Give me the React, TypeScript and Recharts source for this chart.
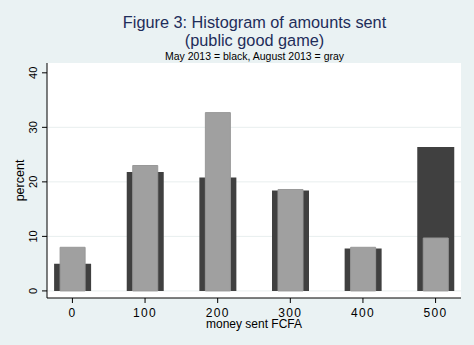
import {
  ComposedChart,
  Bar,
  XAxis,
  YAxis,
  CartesianGrid,
} from 'recharts'

document.body.style.margin = '0'

const amounts = [0, 100, 200, 300, 400, 500]
const may2013 = [5.0, 21.8, 20.8, 18.4, 7.8, 26.4]
const aug2013 = [8.0, 23.0, 32.7, 18.6, 8.0, 9.7]
const yTicks = [0, 10, 20, 30, 40]

const data = amounts.map((a, i) => ({ amount: a, may: may2013[i], aug: aug2013[i] }))

const BG = '#eaf2f3'
const NAVY = '#1e2d5a'
const FONT = '"Liberation Sans", Arial, sans-serif'

function YTick({ x, y, payload }: any) {
  return (
    <text
      x={x - 3}
      y={y}
      transform={`rotate(-90 ${x - 3} ${y})`}
      textAnchor="middle"
      fontSize={11}
      fontFamily={FONT}
      fill="#000"
    >
      {payload.value}
    </text>
  )
}

function XTick({ x, y, payload }: any) {
  return (
    <text
      x={x}
      y={y + 12}
      textAnchor="middle"
      fontSize={12}
      letterSpacing={1.3}
      fontFamily={FONT}
      fill="#000"
    >
      {payload.value}
    </text>
  )
}

export default function App() {
  return (
    <div style={{ position: 'relative', width: 474, height: 345, background: BG, fontFamily: FONT }}>
      <div style={{ position: 'absolute', top: 13, left: 0, width: 509, textAlign: 'center', color: NAVY, fontSize: 16.3, lineHeight: '18px' }}>
        Figure 3: Histogram of amounts sent
        <br />
        (public good game)
      </div>
      <div style={{ position: 'absolute', top: 50, left: 0, width: 509, textAlign: 'center', color: '#000', fontSize: 10.5, lineHeight: '12px' }}>
        May 2013 = black, August 2013 = gray
      </div>
      <div style={{ position: 'absolute', top: 0, left: 0 }}>
        <ComposedChart width={474} height={345} data={data} margin={{ top: 63, right: 13, left: 0, bottom: 0 }}>
          <CartesianGrid fill="#fff" stroke="#e8eeee" vertical={false} horizontalValues={[0, 10, 20, 30]} />
          <XAxis
            xAxisId="m"
            dataKey="amount"
            type="number"
            domain={[-35, 535]}
            ticks={amounts}
            allowDataOverflow
            height={47}
            tickSize={5}
            axisLine={{ stroke: '#000' }}
            tickLine={{ stroke: '#000' }}
            tick={<XTick />}
            label={{ value: 'money sent FCFA', position: 'insideBottom', offset: 17, fontSize: 12, fill: '#000', fontFamily: FONT }}
          />
          <XAxis xAxisId="a" orientation="top" dataKey="amount" type="number" domain={[-35, 535]} allowDataOverflow height={0} hide />
          <YAxis
            type="number"
            domain={[-1.3, 41.8]}
            ticks={yTicks}
            allowDataOverflow
            width={47}
            tickSize={5}
            axisLine={{ stroke: '#000' }}
            tickLine={{ stroke: '#000' }}
            tick={<YTick />}
            label={{ value: 'percent', angle: -90, position: 'insideLeft', offset: 20, fontSize: 12.5, fill: '#000', fontFamily: FONT, style: { textAnchor: 'middle' } }}
          />
          <Bar xAxisId="m" dataKey="may" fill="#404040" barSize={37} isAnimationActive={false} />
          <Bar xAxisId="a" dataKey="aug" fill="#a0a0a0" stroke="#989898" barSize={25} isAnimationActive={false} />
        </ComposedChart>
      </div>
    </div>
  )
}
